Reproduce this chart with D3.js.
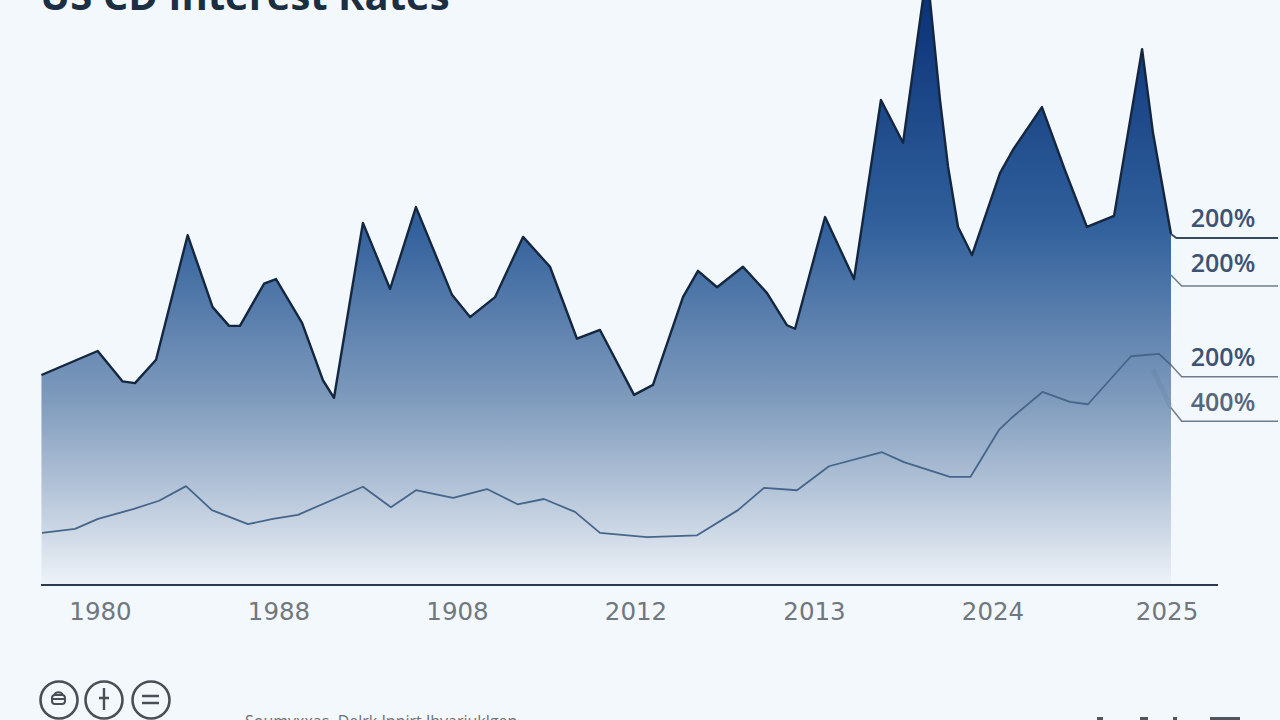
<!DOCTYPE html>
<html>
<head>
<meta charset="utf-8">
<script src="https://cdn.jsdelivr.net/npm/d3@7"></script>
<style>
  html, body { margin: 0; padding: 0; background: #f3f8fc; overflow: hidden; }
  svg { display: block; }
  text { font-family: "Open Sans", sans-serif; }
</style>
</head>
<body>
<script>
const title = "US CD Interest Rates"
const source = "Soumyxxas. Delrk Inpirt Jhvariuklgen"

// x is measured in tick steps, y in the picture's own 0-100 height
const tickLabels = ["1980", "1988", "1908", "2012", "2013", "2024", "2025"]
const tickPositions = [0, 1, 2, 3, 4, 5, 5.975]

const upperX = [-0.328, -0.013, 0.127, 0.196, 0.314, 0.491, 0.631, 0.723, 0.784, 0.919, 0.986, 1.132, 1.249, 1.311, 1.473, 1.625, 1.77, 1.972, 2.073, 2.213, 2.37, 2.521, 2.672, 2.801, 2.992, 3.098, 3.266, 3.35, 3.457, 3.602, 3.737, 3.849, 3.894, 4.062, 4.224, 4.375, 4.499, 4.633, 4.706, 4.751, 4.807, 4.885, 5.042, 5.115, 5.277, 5.406, 5.529, 5.681, 5.838, 5.899, 6]
const upperY = [35.9, 40, 34.8, 34.5, 38.5, 59.8, 47.5, 44.3, 44.3, 51.5, 52.3, 44.8, 35, 32, 61.9, 50.6, 64.6, 49.6, 45.8, 49.2, 59.5, 54.4, 42.1, 43.6, 32.5, 34.2, 49.2, 53.7, 50.9, 54.4, 49.9, 44.4, 43.8, 62.9, 52.3, 82.9, 75.6, 105.1, 82.9, 71.5, 61.2, 56.4, 70.4, 74.4, 81.7, 70.9, 61.2, 63.1, 91.6, 77.3, 60]

const lowerX = [-0.325, -0.14, -0.011, 0.19, 0.331, 0.482, 0.627, 0.829, 0.969, 1.109, 1.473, 1.63, 1.77, 1.849, 1.978, 2.168, 2.339, 2.487, 2.661, 2.801, 3.064, 3.345, 3.574, 3.72, 3.905, 4.084, 4.381, 4.504, 4.762, 4.877, 5.036, 5.104, 5.28, 5.434, 5.535, 5.776, 5.933, 6]
const lowerY = [8.9, 9.6, 11.3, 13, 14.4, 16.9, 12.8, 10.4, 11.3, 12, 16.8, 13.3, 16.2, 15.7, 14.9, 16.4, 13.8, 14.7, 12.5, 8.9, 8.2, 8.5, 12.8, 16.6, 16.2, 20.3, 22.7, 21, 18.5, 18.5, 26.5, 28.5, 33, 31.3, 30.9, 39.1, 39.5, 37.6]

const fadeX = [5.899, 6]
const fadeY = [36.8, 30.3]

const calloutLabels = ["200%", "200%", "200%", "400%"]
const calloutFrom = [60, 53, 37.6, 30.3]
const calloutElbow = [6.03, 6.06, 6.06, 6.06]
const calloutTo = [59.3, 51.1, 35.6, 28]
const calloutLift = [20, 23, 20, 19]

const w = 1280
const h = 720

const xScale = d3.scaleLinear().domain([0, 6]).range([100, 1171])
const yScale = d3.scaleLinear().domain([0, 100]).range([585, 0])

const svg = d3.select("body")
              .append("svg")
              .attr("width", w)
              .attr("height", h)

svg.append("rect")
   .attr("width", w)
   .attr("height", h)
   .attr("fill", "#f3f8fc")

const grad = svg.append("defs")
                .append("linearGradient")
                .attr("id", "fade")
                .attr("gradientUnits", "userSpaceOnUse")
                .attr("x1", 0).attr("x2", 0)
                .attr("y1", 0).attr("y2", 585)
grad.append("stop").attr("offset", "0%").attr("stop-color", "#0b3378")
grad.append("stop").attr("offset", "38%").attr("stop-color", "#305f9b")
grad.append("stop").attr("offset", "68%").attr("stop-color", "#7e9abc")
grad.append("stop").attr("offset", "88%").attr("stop-color", "#c3d0e0")
grad.append("stop").attr("offset", "100%").attr("stop-color", "#eef3f8")

const upper = upperX.map((d, i) => [d, upperY[i]])
const lower = lowerX.map((d, i) => [d, lowerY[i]])
const fade = fadeX.map((d, i) => [d, fadeY[i]])

const area = d3.area()
               .x((d) => xScale(d[0]))
               .y0(yScale(0))
               .y1((d) => yScale(d[1]))
const line = d3.line()
               .x((d) => xScale(d[0]))
               .y((d) => yScale(d[1]))

svg.append("path")
   .attr("d", area(upper))
   .attr("fill", "url(#fade)")

svg.append("path")
   .attr("d", line(fade))
   .attr("fill", "none")
   .attr("stroke", "#4a6a8a")
   .attr("stroke-opacity", 0.14)
   .attr("stroke-width", 5)

svg.append("path")
   .attr("d", line(upper))
   .attr("fill", "none")
   .attr("stroke", "#15273f")
   .attr("stroke-width", 2.4)
   .attr("stroke-linejoin", "round")

svg.append("path")
   .attr("d", line(lower))
   .attr("fill", "none")
   .attr("stroke", "#46658a")
   .attr("stroke-width", 1.8)
   .attr("stroke-linejoin", "round")

// callouts on the right
calloutLabels.forEach((d, i) => {
    const path = d3.line()([
        [xScale(6), yScale(calloutFrom[i])],
        [xScale(calloutElbow[i]), yScale(calloutTo[i])],
        [xScale(6.6), yScale(calloutTo[i])]
    ])
    svg.append("path")
       .attr("d", path)
       .attr("fill", "none")
       .attr("stroke", i == 0 ? "#3a4a5e" : "#6f7c8c")
       .attr("stroke-width", i == 0 ? 2 : 1.5)
    svg.append("text")
       .attr("x", 1223)
       .attr("y", yScale(calloutTo[i]) - calloutLift[i] + 9)
       .attr("text-anchor", "middle")
       .attr("font-size", 25)
       .attr("font-weight", 600)
       .attr("fill", i == 3 ? "#56677c" : "#3d5373")
       .text(d)
})

const xAxis = d3.axisBottom(xScale)
                .tickValues(tickPositions)
                .tickFormat((d, i) => tickLabels[i])
                .tickSize(0)
                .tickPadding(18)

const axisG = svg.append("g")
                 .attr("transform", "translate(0, " + yScale(0) + ")")
                 .call(xAxis)
axisG.select(".domain").remove()
axisG.selectAll("text")
     .style("font-family", "'DejaVu Sans', sans-serif")
     .attr("font-size", 24.5)
     .attr("fill", "#70777f")

svg.append("line")
   .attr("x1", 41)
   .attr("x2", 1218)
   .attr("y1", yScale(0))
   .attr("y2", yScale(0))
   .attr("stroke", "#2b3a4d")
   .attr("stroke-width", 2)

svg.append("text")
   .attr("x", 40)
   .attr("y", 10)
   .attr("font-size", 40)
   .attr("font-weight", 700)
   .attr("fill", "#1c2f42")
   .text(title)

// round icons bottom left
const icons = svg.append("g")
                 .attr("fill", "none")
                 .attr("stroke", "#484f57");
[59, 104, 151].forEach((cx) => {
    icons.append("circle")
         .attr("cx", cx)
         .attr("cy", 700)
         .attr("r", 18.5)
         .attr("stroke-width", 2.6)
})
icons.append("rect").attr("x", 52).attr("y", 695).attr("width", 13).attr("height", 9).attr("rx", 3).attr("stroke-width", 2)
icons.append("path").attr("d", "M54 695a5 5 0 0 1 9 0M52 699h13").attr("stroke-width", 2)
icons.append("path").attr("d", "M104 688v22M99 698h10").attr("stroke-width", 2.4)
icons.append("path").attr("d", "M142 696h17M142 703h17").attr("stroke-width", 2.4)

svg.append("text")
   .attr("x", 245)
   .attr("y", 727)
   .attr("font-size", 16)
   .attr("fill", "#6c7177")
   .text(source)

// cut-off marks at the bottom right edge
const marks = svg.append("g").attr("fill", "#50565d");
[[1097, 6], [1140, 8], [1173, 4], [1210, 30]].forEach((d) => {
    marks.append("rect")
         .attr("x", d[0])
         .attr("y", 717)
         .attr("width", d[1])
         .attr("height", 3)
})
</script>
</body>
</html>
